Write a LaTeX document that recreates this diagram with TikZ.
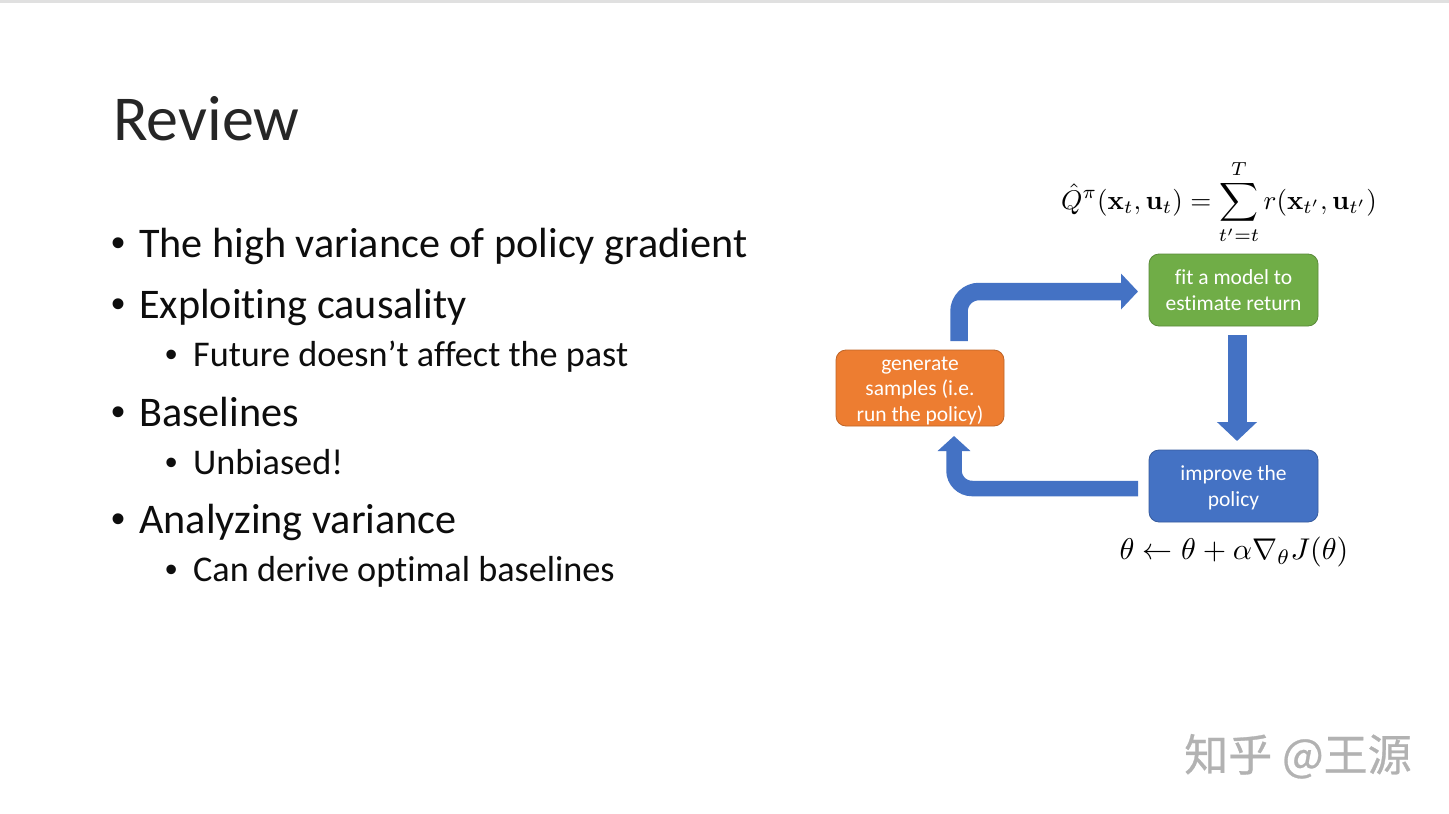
\documentclass[tikz,border=0pt]{standalone}
\usepackage[no-math]{fontspec}
\usepackage{amsmath}
\usetikzlibrary{arrows.meta,calc}
\setmainfont[Ligatures=NoCommon]{Carlito}
\newfontfamily\bulletf{Liberation Sans}
\newfontfamily\cjkwm[FakeBold=0.6]{Noto Sans CJK SC}
\definecolor{bblue}{HTML}{4472C4}
\definecolor{bgreen}{HTML}{70AD47}
\definecolor{borange}{HTML}{ED7D31}
\tikzset{
  x=1pt,y=-1pt,
  titletext/.style={anchor=base west,inner sep=0pt,font=\fontsize{64}{66}\selectfont,text=black!85},
  lvlone/.style={anchor=base west,inner sep=0pt,font=\fontsize{42.2}{44}\selectfont,text=black!95},
  lvltwo/.style={anchor=base west,inner sep=0pt,font=\fontsize{36.2}{38}\selectfont,text=black!95},
  bulone/.style={anchor=base west,inner sep=0pt,font=\bulletf\fontsize{40}{42}\selectfont,text=black!95},
  bultwo/.style={anchor=base west,inner sep=0pt,font=\bulletf\fontsize{35}{37}\selectfont,text=black!95},
  stepbox/.style={rounded corners=10pt,minimum width=169pt,minimum height=72pt,inner sep=0pt,align=center,text=white,font=\fontsize{21.5}{26}\selectfont,line width=0.8pt},
  blockarrow/.style={draw=bblue,line cap=butt}
}
\begin{document}
\begin{tikzpicture}
\useasboundingbox (0,0) rectangle (1449,814);
\fill[white] (0,0) rectangle (1449,814);
\fill[black!12] (0,0) rectangle (1449,3);
\node[titletext] (title) at (113,140) {Review};
\node[bulone] (b1) at (111,256) {•};
\node[lvlone] (t1) at (139,257) {The high variance of policy gradient};
\node[bulone] (b2) at (111,317) {•};
\node[lvlone] (t2) at (139,318) {Exploiting causality};
\node[bultwo] (b3) at (165,366) {•};
\node[lvltwo] (t3) at (193,366) {Future doesn’t affect the past};
\node[bulone] (b4) at (111,425) {•};
\node[lvlone] (t4) at (139,426) {Baselines};
\node[bultwo] (b5) at (165,474) {•};
\node[lvltwo] (t5) at (193,474) {Unbiased!};
\node[bulone] (b6) at (111,532) {•};
\node[lvlone] (t6) at (139,533) {Analyzing variance};
\node[bultwo] (b7) at (165,581) {•};
\node[lvltwo] (t7) at (193,581) {Can derive optimal baselines};

\node[stepbox,fill=bgreen,draw=bgreen!80!black] (fit) at (1233.5,290) {fit a model to\\estimate return};
\node[stepbox,fill=bblue,draw=bblue!80!black] (improve) at (1233.5,486) {\rule{0pt}{19pt}improve the\\policy};
\node[stepbox,fill=borange,draw=borange!80!black,minimum width=168pt,minimum height=76pt,font=\fontsize{21.5}{25.5}\selectfont] (gen) at (920,388) {\rule{0pt}{19pt}generate\\samples (i.e.\\run the policy)};

\coordinate (a1s) at (959,341);
\coordinate (a1c) at (959,291.5);
\coordinate (a1e) at (1138,291.5);
\coordinate (a2s) at (1237,335);
\coordinate (a2e) at (1237,441);
\coordinate (a3s) at (1138,488.5);
\coordinate (a3c) at (954,488.5);
\coordinate (a3e) at (954,436);
\draw[blockarrow,line width=17.5pt,rounded corners=20pt,-{Triangle[length=17pt,width=35pt]}] (a1s) -- (a1c) -- (a1e);
\draw[blockarrow,line width=19pt,-{Triangle[length=19pt,width=39pt]}] (a2s) -- (a2e);
\draw[blockarrow,line width=15.5pt,rounded corners=18pt,-{Triangle[length=15pt,width=32pt]}] (a3s) -- (a3c) -- (a3e);

\node[inner sep=0pt] (qeq) at (1219,202) {\scalebox{2.7}{$\displaystyle \hat{Q}^{\pi}(\mathbf{x}_t,\mathbf{u}_t)=\sum_{t'=t}^{T} r(\mathbf{x}_{t'},\mathbf{u}_{t'})$}};
\node[inner sep=0pt] (upd) at (1234,552) {\scalebox{3}{$\theta\leftarrow\theta+\alpha\nabla_{\theta}J(\theta)$}};
\node[inner sep=0pt,anchor=base west,text=black!30,font=\cjkwm\fontsize{44}{46}\selectfont] (wm) at (1184,771) {知乎 @王源};
\end{tikzpicture}
\end{document}
